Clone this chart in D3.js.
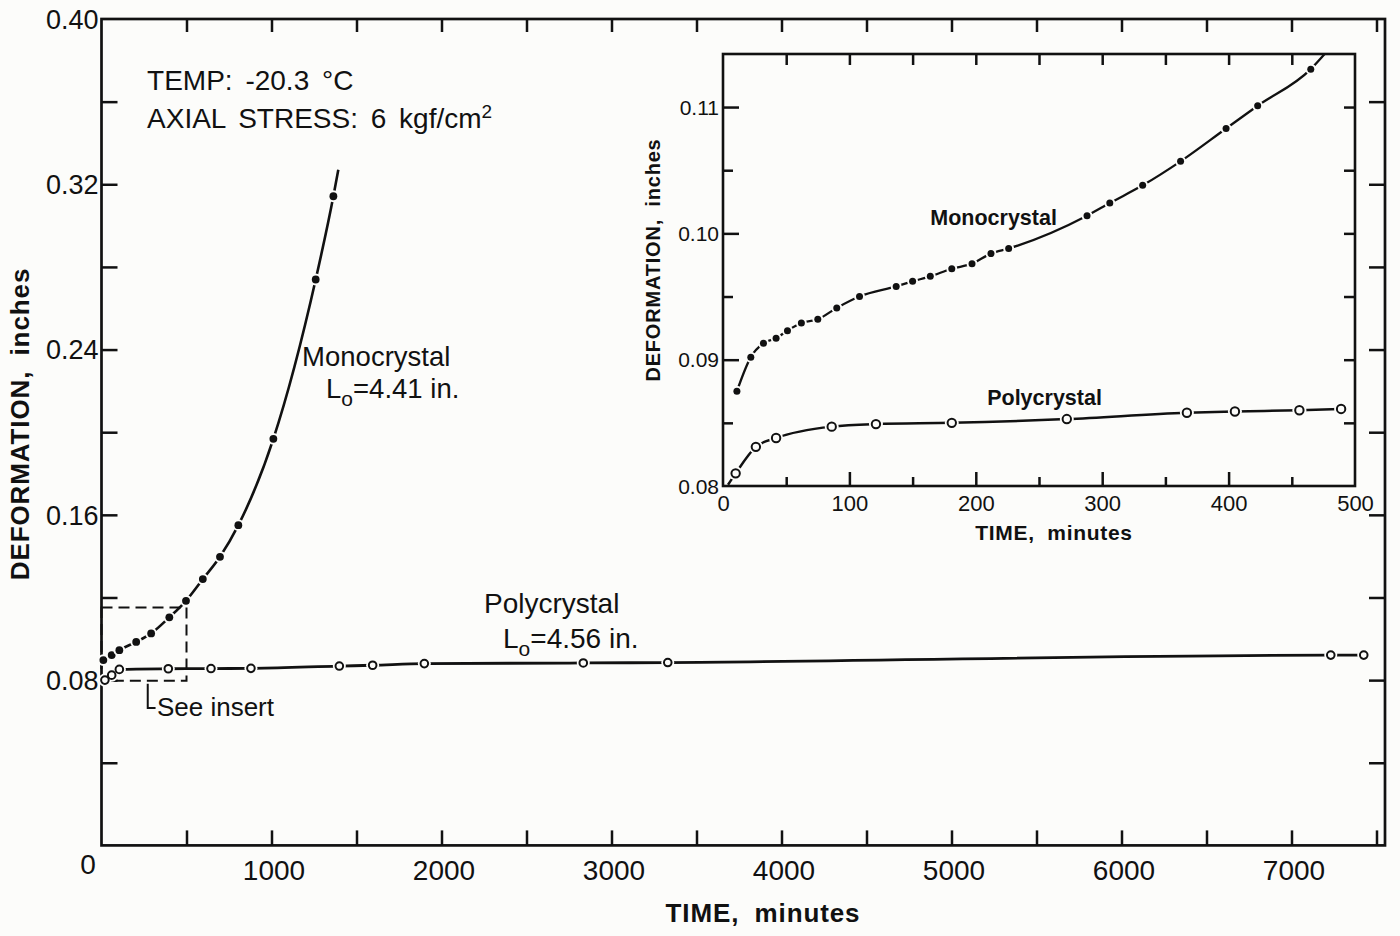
<!DOCTYPE html>
<html>
<head>
<meta charset="utf-8">
<script src="https://cdn.jsdelivr.net/npm/d3@7"></script>
<style>
  body { margin: 0; background: #fcfcfa; }
  svg { display: block; }
  text { font-family: "Liberation Sans", Arial, sans-serif; fill: #111; }
</style>
</head>
<body>
<script>
// creep curves, ice monocrystal vs polycrystal, -20.3 C

// main plot (time in minutes, deformation in inches)
var mainMonoTime = [11, 60, 105, 204, 292, 399, 497, 596, 697, 805, 1011, 1260, 1364];
var mainMonoDef  = [0.0897, 0.0921, 0.0945, 0.0985, 0.1026, 0.1104, 0.1184, 0.1289, 0.1397, 0.1550, 0.1968, 0.2739, 0.3142];
var mainMonoEnd  = [1393, 0.327];   // where the drawn curve stops

var mainPolyTime = [20, 60, 105, 393, 644, 879, 1399, 1595, 1899, 2834, 3331, 7231, 7425];
var mainPolyDef  = [0.0800, 0.0824, 0.0852, 0.0855, 0.0856, 0.0857, 0.0868, 0.0872, 0.0880, 0.0883, 0.0885, 0.0921, 0.0921];

// insert (first 500 minutes)
var insetMonoTime = [11, 22, 32, 42, 51, 62, 75, 90, 108, 137, 150, 164, 181, 197, 212, 226, 288, 306, 332, 362, 398, 423, 465];
var insetMonoDef  = [0.0875, 0.0902, 0.0913, 0.0917, 0.0923, 0.0929, 0.0932, 0.0941, 0.0950, 0.0958, 0.0962, 0.0966,
                     0.0972, 0.0976, 0.0984, 0.0988, 0.1014, 0.1024, 0.1038, 0.1057, 0.1083, 0.1101, 0.1130];
var insetMonoEnd  = [476, 0.1142];

var insetPolyTime = [10, 26, 42, 86, 121, 181, 272, 367, 405, 456, 489];
var insetPolyDef  = [0.0810, 0.0831, 0.0838, 0.0847, 0.0849, 0.0850, 0.0853, 0.0858, 0.0859, 0.0860, 0.0861];
var insetPolyStart = [4, 0.0801];

// dashed "see insert" box
var boxTime = [0, 500];
var boxDef  = [0.0797, 0.1152];

// ticks
var mainXTicks  = d3.range(0, 7501, 500);
var mainXLabels = [0, 1000, 2000, 3000, 4000, 5000, 6000, 7000];
var mainYTicks  = [0.04, 0.08, 0.12, 0.16, 0.20, 0.24, 0.28, 0.32, 0.36];
var mainYLabels = [0.08, 0.16, 0.24, 0.32, 0.40];

var insetXTicks  = d3.range(50, 451, 50);
var insetXLabels = [0, 100, 200, 300, 400, 500];
var insetYTicks  = [0.085, 0.09, 0.095, 0.10, 0.105, 0.11];
var insetYLabels = [0.08, 0.09, 0.10, 0.11];

var width = 1400, height = 936;

var svg = d3.select("body").append("svg")
    .attr("width", width)
    .attr("height", height);

var x = d3.scaleLinear().domain([0, 7550]).range([101.5, 1385]);
var y = d3.scaleLinear().domain([0, 0.40]).range([845.4, 19]);

var xi = d3.scaleLinear().domain([0, 500]).range([723, 1355]);
var yi = d3.scaleLinear().domain([0.08, 0.1142]).range([486, 54]);

function zip(a, b) { return a.map(function(d, i) { return [d, b[i]]; }); }

// ---------- main frame + ticks ----------
var main = svg.append("g");

function tickAxis(g, axis, tf) {
  g.call(axis);
  g.select(".domain").remove();
  g.selectAll("line").attr("stroke", "#111").attr("stroke-width", 2.5);
  if (tf) g.selectAll("text").remove();
  return g;
}

tickAxis(main.append("g").attr("transform", "translate(" + x(0) + ",0)"),
  d3.axisLeft(y).tickValues(mainYTicks).tickSize(-16), true);
tickAxis(main.append("g").attr("transform", "translate(" + x(7550) + ",0)"),
  d3.axisRight(y).tickValues(mainYTicks).tickSize(-16), true);
tickAxis(main.append("g").attr("transform", "translate(0," + y(0) + ")"),
  d3.axisBottom(x).tickValues(mainXTicks.slice(1)).tickSize(-15), true);
tickAxis(main.append("g").attr("transform", "translate(0," + y(0.40) + ")"),
  d3.axisTop(x).tickValues(mainXTicks.slice(1)).tickSize(-13), true);

main.append("rect")
    .attr("x", x(0)).attr("y", y(0.40))
    .attr("width", x(7550) - x(0)).attr("height", y(0) - y(0.40))
    .attr("fill", "none").attr("stroke", "#111").attr("stroke-width", 2.7);

// tick labels
var yl = main.append("g").attr("transform", "translate(" + (x(0) - 3) + ",0)")
  .call(d3.axisLeft(y).tickValues(mainYLabels).tickSize(0).tickPadding(0)
        .tickFormat(d3.format(".2f")));
yl.select(".domain").remove();
yl.selectAll("text").attr("font-size", 27).attr("font-family", null).attr("fill", "#111")
  .attr("dy", "0.34em");

var xl = main.append("g").attr("transform", "translate(0," + y(0) + ")")
  .call(d3.axisBottom(x).tickValues(mainXLabels).tickSize(0).tickPadding(15)
        .tickFormat(d3.format("d")));
xl.select(".domain").remove();
xl.selectAll("text").attr("font-size", 28).attr("font-family", null).attr("fill", "#111")
  .attr("dx", function(d) { return d === 0 ? -14 : 2; })
  .attr("dy", function(d) { return d === 0 ? "0.5em" : "0.71em"; });

// axis titles
main.append("text")
    .attr("transform", "translate(" + 29 + "," + 424 + ") rotate(-90)")
    .attr("text-anchor", "middle")
    .attr("font-size", 26).attr("font-weight", "bold")
    .attr("letter-spacing", 0.9).attr("word-spacing", 7)
    .text("DEFORMATION, inches");

main.append("text")
    .attr("x", 763).attr("y", 922)
    .attr("text-anchor", "middle")
    .attr("font-size", 26).attr("font-weight", "bold")
    .attr("letter-spacing", 0.9).attr("word-spacing", 7)
    .text("TIME, minutes");

// conditions
main.append("text").attr("x", x(268)).attr("y", y(0.3655))
    .attr("font-size", 28).attr("word-spacing", 5)
    .text("TEMP: -20.3 °C");
var ax = main.append("text").attr("x", x(268)).attr("y", y(0.347))
    .attr("font-size", 28).attr("word-spacing", 5);
ax.append("tspan").text("AXIAL STRESS: 6 kgf/cm");
ax.append("tspan").attr("dy", -10).attr("font-size", 19).text("2");

// dashed box + "see insert"
main.append("rect")
    .attr("x", x(boxTime[0])).attr("y", y(boxDef[1]))
    .attr("width", x(boxTime[1]) - x(boxTime[0]))
    .attr("height", y(boxDef[0]) - y(boxDef[1]))
    .attr("fill", "none").attr("stroke", "#111").attr("stroke-width", 2)
    .attr("stroke-dasharray", "11,6");

main.append("path")
    .attr("d", d3.line()([[x(272), y(boxDef[0]) + 3], [x(272), y(0.0665)], [x(318), y(0.0665)]]))
    .attr("fill", "none").attr("stroke", "#111").attr("stroke-width", 2);

main.append("text").attr("x", x(326)).attr("y", y(0.0627))
    .attr("font-size", 26).text("See insert");

// curves
var lineMain = d3.line().x(function(d) { return x(d[0]); }).y(function(d) { return y(d[1]); })
    .curve(d3.curveMonotoneX);

var monoMain = zip(mainMonoTime, mainMonoDef);
var polyMain = zip(mainPolyTime, mainPolyDef);

main.append("path").datum(monoMain.concat([mainMonoEnd]))
    .attr("d", lineMain).attr("fill", "none").attr("stroke", "#111").attr("stroke-width", 2.6);
main.append("path").datum(polyMain)
    .attr("d", lineMain).attr("fill", "none").attr("stroke", "#111").attr("stroke-width", 2.8);

main.selectAll(".mm").data(monoMain).enter().append("circle")
    .attr("cx", function(d) { return x(d[0]); }).attr("cy", function(d) { return y(d[1]); })
    .attr("r", 3.9).attr("fill", "#111").attr("stroke", "#fcfcfa").attr("stroke-width", 4)
    .style("paint-order", "stroke");

main.selectAll(".pmh").data(polyMain).enter().append("circle")
    .attr("cx", function(d) { return x(d[0]); }).attr("cy", function(d) { return y(d[1]); })
    .attr("r", 6.5).attr("fill", "#fcfcfa");
main.selectAll(".pm").data(polyMain).enter().append("circle")
    .attr("cx", function(d) { return x(d[0]); }).attr("cy", function(d) { return y(d[1]); })
    .attr("r", 3.8).attr("fill", "#fcfcfa").attr("stroke", "#111").attr("stroke-width", 2);

// curve labels
main.append("text").attr("x", x(1180)).attr("y", y(0.232)).attr("font-size", 27.5)
    .text("Monocrystal");
var ml2 = main.append("text").attr("x", x(1321)).attr("y", y(0.2165)).attr("font-size", 27.5);
ml2.append("tspan").text("L");
ml2.append("tspan").attr("dy", 8).attr("font-size", 21).text("o");
ml2.append("tspan").attr("dy", -8).text("=4.41 in.");

main.append("text").attr("x", x(2250)).attr("y", y(0.1124)).attr("font-size", 28)
    .text("Polycrystal");
var pl2 = main.append("text").attr("x", x(2362)).attr("y", y(0.0955)).attr("font-size", 28);
pl2.append("tspan").text("L");
pl2.append("tspan").attr("dy", 8).attr("font-size", 21).text("o");
pl2.append("tspan").attr("dy", -8).text("=4.56 in.");

// ---------- insert ----------
var ins = svg.append("g");

ins.append("rect")
    .attr("x", xi(0)).attr("y", yi(0.1142))
    .attr("width", xi(500) - xi(0)).attr("height", yi(0.08) - yi(0.1142))
    .attr("fill", "#fcfcfa");

tickAxis(ins.append("g").attr("transform", "translate(" + xi(0) + ",0)"),
  d3.axisLeft(yi).tickValues(insetYTicks)
    .tickSize(-10), true)
  .selectAll("line").attr("x2", function(d) { return insetYLabels.some(function(v) { return Math.abs(v - d) < 1e-6; }) ? 16 : 10; });
tickAxis(ins.append("g").attr("transform", "translate(" + xi(500) + ",0)"),
  d3.axisRight(yi).tickValues(insetYTicks).tickSize(-11), true);
tickAxis(ins.append("g").attr("transform", "translate(0," + yi(0.08) + ")"),
  d3.axisBottom(xi).tickValues(insetXTicks).tickSize(-9), true)
  .selectAll("line").attr("y2", function(d) { return d % 100 === 0 ? -14 : -9; });
tickAxis(ins.append("g").attr("transform", "translate(0," + yi(0.1142) + ")"),
  d3.axisTop(xi).tickValues(insetXTicks).tickSize(-11), true);

ins.append("rect")
    .attr("x", xi(0)).attr("y", yi(0.1142))
    .attr("width", xi(500) - xi(0)).attr("height", yi(0.08) - yi(0.1142))
    .attr("fill", "none").attr("stroke", "#111").attr("stroke-width", 2.6);

var iyl = ins.append("g").attr("transform", "translate(" + (xi(0) - 4) + ",0)")
  .call(d3.axisLeft(yi).tickValues(insetYLabels).tickSize(0).tickPadding(0)
        .tickFormat(d3.format(".2f")));
iyl.select(".domain").remove();
iyl.selectAll("text").attr("font-size", 21).attr("font-family", null).attr("fill", "#111")
  .attr("dy", "0.34em");

var ixl = ins.append("g").attr("transform", "translate(0," + yi(0.08) + ")")
  .call(d3.axisBottom(xi).tickValues(insetXLabels).tickSize(0).tickPadding(9)
        .tickFormat(d3.format("d")));
ixl.select(".domain").remove();
ixl.selectAll("text").attr("font-size", 22).attr("font-family", null).attr("fill", "#111");

ins.append("text")
    .attr("transform", "translate(" + 660 + "," + 260 + ") rotate(-90)")
    .attr("text-anchor", "middle")
    .attr("font-size", 20).attr("font-weight", "bold")
    .attr("letter-spacing", 0.8).attr("word-spacing", 6)
    .text("DEFORMATION, inches");

ins.append("text")
    .attr("x", 1054).attr("y", 540)
    .attr("text-anchor", "middle")
    .attr("font-size", 21).attr("font-weight", "bold")
    .attr("letter-spacing", 0.7).attr("word-spacing", 6)
    .text("TIME, minutes");

var lineIns = d3.line().x(function(d) { return xi(d[0]); }).y(function(d) { return yi(d[1]); })
    .curve(d3.curveMonotoneX);

var monoIns = zip(insetMonoTime, insetMonoDef);
var polyIns = zip(insetPolyTime, insetPolyDef);

ins.append("path").datum(monoIns.concat([insetMonoEnd]))
    .attr("d", lineIns).attr("fill", "none").attr("stroke", "#111").attr("stroke-width", 2.3);
ins.append("path").datum([insetPolyStart].concat(polyIns))
    .attr("d", lineIns).attr("fill", "none").attr("stroke", "#111").attr("stroke-width", 2.5);

ins.selectAll(".im").data(monoIns).enter().append("circle")
    .attr("cx", function(d) { return xi(d[0]); }).attr("cy", function(d) { return yi(d[1]); })
    .attr("r", 3.5).attr("fill", "#111").attr("stroke", "#fcfcfa").attr("stroke-width", 4)
    .style("paint-order", "stroke");

ins.selectAll(".iph").data(polyIns).enter().append("circle")
    .attr("cx", function(d) { return xi(d[0]); }).attr("cy", function(d) { return yi(d[1]); })
    .attr("r", 7).attr("fill", "#fcfcfa");
ins.selectAll(".ip").data(polyIns).enter().append("circle")
    .attr("cx", function(d) { return xi(d[0]); }).attr("cy", function(d) { return yi(d[1]); })
    .attr("r", 4.2).attr("fill", "#fcfcfa").attr("stroke", "#111").attr("stroke-width", 2);

ins.append("text").attr("x", xi(164)).attr("y", yi(0.1007))
    .attr("font-size", 21.5).attr("font-weight", "bold").text("Monocrystal");
ins.append("text").attr("x", xi(209)).attr("y", yi(0.0864))
    .attr("font-size", 21.5).attr("font-weight", "bold").text("Polycrystal");
</script>
</body>
</html>
